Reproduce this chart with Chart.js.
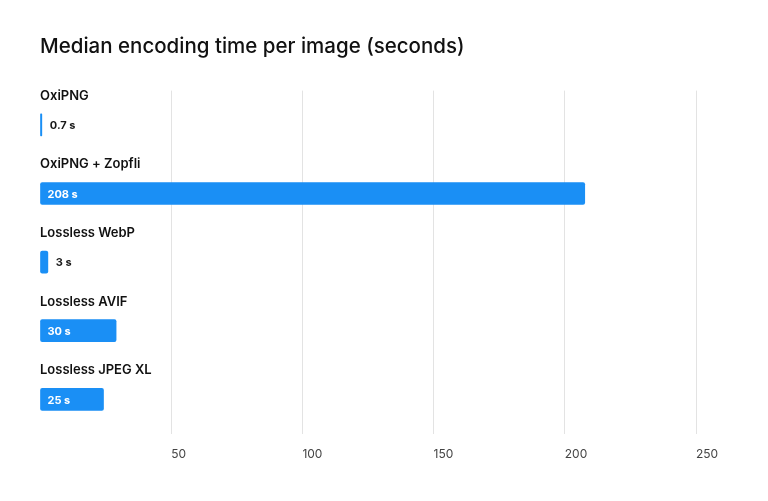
<!DOCTYPE html>
<html>
<head>
<meta charset="utf-8">
<script src="https://cdn.jsdelivr.net/npm/chart.js@4"></script>
<style>
  html, body { margin: 0; padding: 0; background: #fff; }
  #wrap { width: 768px; height: 501px; }
</style>
</head>
<body>
<div id="wrap"><canvas id="encChart"></canvas></div>
<script>
const encoders = ["OxiPNG", "OxiPNG + Zopfli", "Lossless WebP", "Lossless AVIF", "Lossless JPEG XL"];
const medianSeconds = [0.7, 207.6, 3, 29, 24.2];
const valueLabels = ["0.7 s", "208 s", "3 s", "30 s", "25 s"];
const xTicks = [50, 100, 150, 200, 250];

const barBlue = '#1a8ff5';

// value label inside the bar when it fits, otherwise just after its end
const barValueLabels = {
  id: 'barValueLabels',
  afterDatasetsDraw(chart) {
    const ctx = chart.ctx;
    const meta = chart.getDatasetMeta(0);
    ctx.save();
    ctx.font = '700 11px Inter';
    ctx.textBaseline = 'middle';
    ctx.textAlign = 'left';
    meta.data.forEach((bar, i) => {
      const text = valueLabels[i];
      const w = ctx.measureText(text).width;
      const barLen = bar.x - bar.base;
      if (w + 16 < barLen) {
        ctx.fillStyle = '#ffffff';
        ctx.fillText(text, bar.base + 7, bar.y + 1);
      } else {
        ctx.fillStyle = '#1a1a1a';
        ctx.fillText(text, bar.x + 8, bar.y + 1);
      }
    });
    ctx.restore();
  }
};

const ctx = document.getElementById('encChart').getContext('2d');
new Chart(ctx, {
  type: 'bar',
  data: {
    labels: encoders,
    datasets: [{
      data: medianSeconds,
      backgroundColor: barBlue,
      borderRadius: 2,
      borderSkipped: false,
      barThickness: 22
    }]
  },
  options: {
    indexAxis: 'y',
    responsive: true,
    maintainAspectRatio: false,
    animation: false,
    layout: {
      padding: { left: 40, right: 72, top: 0, bottom: 25 }
    },
    plugins: {
      legend: { display: false },
      tooltip: { enabled: false },
      title: {
        display: true,
        text: 'Median encoding time per image (seconds)',
        align: 'start',
        color: '#111111',
        font: { family: 'Inter', size: 20.5, weight: '500' },
        padding: { top: 35, bottom: 31 }
      }
    },
    scales: {
      x: {
        min: 0,
        max: 250,
        afterBuildTicks(scale) {
          scale.ticks = [0].concat(xTicks).map(v => ({ value: v }));
        },
        border: { display: false },
        grid: {
          color: ctx => ctx.tick && ctx.tick.value === 0 ? 'rgba(0,0,0,0)' : '#e3e3e3',
          lineWidth: 1,
          drawTicks: false
        },
        ticks: {
          align: 'start',
          padding: 14,
          color: '#444444',
          font: { family: 'Inter', size: 12 },
          callback: v => v === 0 ? '' : v
        }
      },
      y: {
        border: { display: false },
        grid: { display: false, drawTicks: false },
        ticks: {
          mirror: true,
          padding: 0,
          labelOffset: -29,
          color: '#111111',
          font: { family: 'Inter', size: 13, weight: '600' }
        }
      }
    }
  },
  plugins: [barValueLabels]
});
</script>
</body>
</html>
